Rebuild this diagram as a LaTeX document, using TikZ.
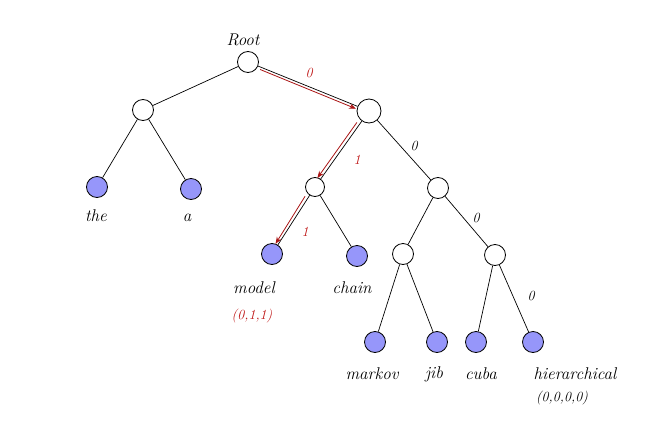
\documentclass[tikz,border=0pt]{standalone}
\usetikzlibrary{arrows.meta,calc}
\begin{document}
\begin{tikzpicture}[x=1pt,y=-1pt,
  wn/.style={circle,draw,fill=white,minimum size=21pt,inner sep=0pt,line width=0.8pt},
  bn/.style={circle,draw,fill={rgb,255:red,150;green,150;blue,250},minimum size=21pt,inner sep=0pt,line width=0.8pt},
  lab/.style={font=\itshape\fontsize{17}{19}\selectfont},
  rlab/.style={font=\itshape\fontsize{14}{16}\selectfont,text={rgb,255:red,190;green,20;blue,20}},
  blab/.style={font=\itshape\fontsize{14}{16}\selectfont},
  edge/.style={line width=0.7pt},
  red arrow/.style={draw={rgb,255:red,170;green,20;blue,20},line width=0.8pt,-{Stealth[length=7pt]}}]
\useasboundingbox (0,0) rectangle (658,439);
\node[wn] (root) at (248,62) {};
\node[wn] (l) at (143,110) {};
\node[wn,minimum size=24pt] (r) at (369,111) {};
\node[bn] (the) at (97,187) {};
\node[bn] (a) at (191,189) {};
\node[wn,minimum size=19pt] (n1) at (315,187) {};
\node[wn] (n2) at (438,188) {};
\node[bn] (model) at (272,254) {};
\node[bn] (chain) at (357,256) {};
\node[wn] (n3) at (403,254) {};
\node[wn] (n4) at (495,255) {};
\node[bn] (markov) at (375,342) {};
\node[bn] (jib) at (437,342) {};
\node[bn] (cuba) at (476,342) {};
\node[bn] (hier) at (533,342) {};
\foreach \u/\v in {root/l,root/r,l/the,l/a,r/n1,r/n2,n1/model,n1/chain,n2/n3,n2/n4,n3/markov,n3/jib,n4/cuba,n4/hier}
  \draw[edge] (\u) -- (\v);
\draw[red arrow] ($(root)!12pt!(r)+(1,3)$) -- ($(r)!14pt!(root)+(0,3)$);
\draw[red arrow] ($(r)!14pt!(n1)+(-4,0)$) -- ($(n1)!11pt!(r)+(-4,0)$);
\draw[red arrow] ($(n1)!11pt!(model)+(-4,0)$) -- ($(model)!12pt!(n1)+(-3,0)$);
\node[lab] (troot) at (243,40) {Root};
\node[lab] (tthe) at (96,216) {the};
\node[lab] (ta) at (187,218) {a};
\node[lab] (tmodel) at (254,288) {model};
\node[rlab] (cmodel) at (252,316) {(0,1,1)};
\node[lab] (tchain) at (352,288) {chain};
\node[lab] (tmarkov) at (372,374) {markov};
\node[lab] (tjib) at (434,374) {jib};
\node[lab] (tcuba) at (481,374) {cuba};
\node[lab] (thier) at (575,374) {hierarchical};
\node[blab] (chier) at (562,398) {(0,0,0,0)};
\node[rlab] (e1) at (309,73) {0};
\node[rlab] (e2) at (357,160) {1};
\node[rlab] (e3) at (305,232) {1};
\node[blab] (e4) at (414,146) {0};
\node[blab] (e5) at (476,218) {0};
\node[blab] (e6) at (531,296) {0};
\end{tikzpicture}
\end{document}
